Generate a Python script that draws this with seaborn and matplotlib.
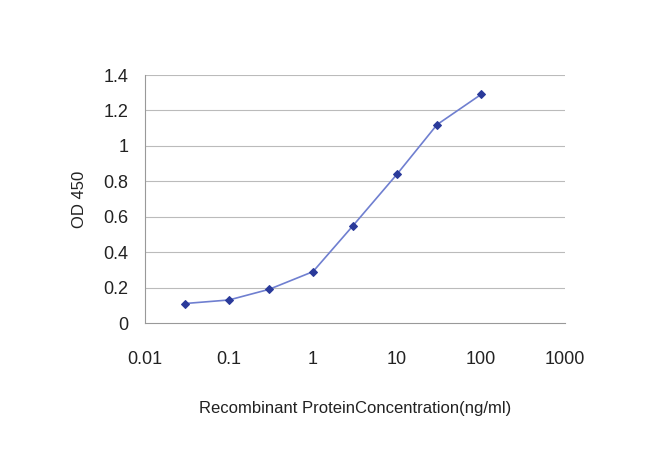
import matplotlib
matplotlib.use("Agg")
import matplotlib.pyplot as plt
import seaborn as sns
import pandas as pd

conc = [0.03, 0.1, 0.3, 1, 3, 10, 30, 100]
od = [0.11, 0.13, 0.19, 0.29, 0.55, 0.84, 1.12, 1.29]
xticks = [0.01, 0.1, 1, 10, 100, 1000]
xticklabels = ["0.01", "0.1", "1", "10", "100", "1000"]
yticks = [0, 0.2, 0.4, 0.6, 0.8, 1, 1.2, 1.4]
yticklabels = ["0", "0.2", "0.4", "0.6", "0.8", "1", "1.2", "1.4"]

sns.set_style("white")
plt.rcParams['font.family'] = ['Liberation Sans', 'DejaVu Sans']
fig = plt.figure(figsize=(6.5, 4.66), dpi=100)
ax = fig.add_axes([145/650, 1-323/466, 420/650, 248/466])
df = pd.DataFrame({"c": conc, "od": od})
sns.lineplot(data=df, x="c", y="od", ax=ax, color="#6f7fd0", lw=1.2,
             marker="D", markersize=4.5, markerfacecolor="#2a3a9a", markeredgecolor="#2a3a9a")
ax.set_xscale("log")
ax.set_xlim(0.01, 1000)
ax.set_ylim(0, 1.4)
ax.set_xticks(xticks)
ax.set_xticklabels(xticklabels)
ax.minorticks_off()
ax.set_yticks(yticks)
ax.set_yticklabels(yticklabels)
for y in yticks[1:]:
    ax.axhline(y, color="#bbbbbb", lw=0.8, zorder=0)
for s in ax.spines.values():
    s.set_color("#999999"); s.set_linewidth(0.8)
ax.spines["top"].set_visible(False)
ax.spines["right"].set_visible(False)
ax.tick_params(labelsize=13, colors="#222222", length=0)
ax.tick_params(axis="x", pad=20)
ax.tick_params(axis="y", pad=12)
ax.set_xlabel("Recombinant ProteinConcentration(ng/ml)", fontsize=12, labelpad=24, color="#222222")
ax.set_ylabel("OD 450", fontsize=12, color="#222222", labelpad=12)
fig.savefig("out.png", dpi=100)
